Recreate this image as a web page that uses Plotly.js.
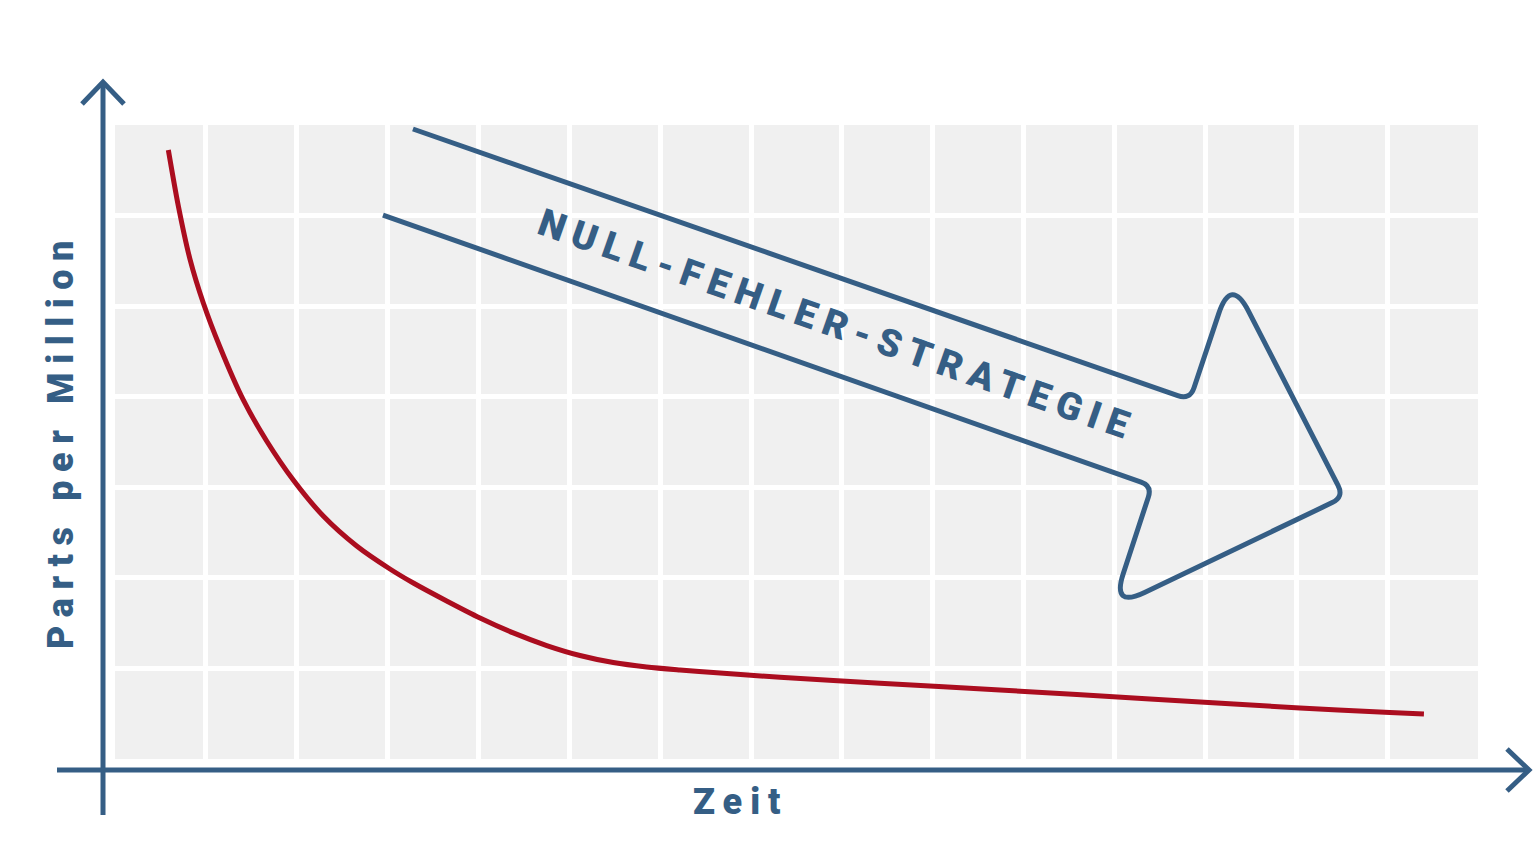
<!DOCTYPE html>
<html>
<head>
<meta charset="utf-8">
<script src="https://cdn.plot.ly/plotly-3.0.1.min.js"></script>
<style>
  html, body { margin: 0; padding: 0; background: #ffffff; }
  #chart { width: 1536px; height: 865px; }
  .annotation[data-index="0"] text { letter-spacing: 8px; }
  .annotation[data-index="1"] text { letter-spacing: 8px; }
  .annotation[data-index="2"] text { letter-spacing: 8.6px; }
</style>
</head>
<body>
<div id="chart"></div>
<script>
// ---- data (in grid units: 15 columns x 7 rows) ----
const gridCols = 15;
const gridRows = 7;

// Red curve: Parts per Million over time
const timeX = [0.587, 0.697, 0.825, 0.972, 1.155, 1.412, 1.669, 1.962, 2.292, 2.660, 3.026,
               3.283, 3.650, 4.017, 4.383, 4.751, 5.117, 5.484, 5.851, 6.218, 6.584, 7.318,
               8.419, 9.739, 11.390, 13.041, 14.031, 14.405];
const ppmY  = [6.724, 6.106, 5.520, 5.035, 4.549, 3.964, 3.511, 3.080, 2.683, 2.352, 2.098,
               1.943, 1.745, 1.557, 1.392, 1.253, 1.143, 1.065, 1.016, 0.983, 0.955, 0.902,
               0.836, 0.762, 0.662, 0.563, 0.513, 0.497];

// Outline arrow "Null-Fehler-Strategie" (sharp vertices, rounded on draw)
const arrowX = [3.279, 11.830, 12.281, 13.525, 10.972, 11.412, 2.949];
const arrowY = [6.956, 3.964, 5.322, 2.893, 1.667, 3.014, 6.006];
const arrowRadius = [0, 0.14, 0.18, 0.14, 0.17, 0.13, 0];

const arrowLabel = 'NULL-FEHLER-STRATEGIE';
const xTitle = 'Zeit';
const yTitle = 'Parts per Million';

// ---- styling ----
const BLUE = '#355e85';
const RED = '#ab0d1f';
const W = 1536, H = 865;
const M = { l: 115, r: 58, t: 125, b: 106 };
const plotW = W - M.l - M.r, plotH = H - M.t - M.b;
const px = x => (x - M.l) / plotW;          // page x -> paper
const py = y => (H - M.b - y) / plotH;      // page y -> paper

function roundedPath(xs, ys, rs) {
  let d = 'M ' + xs[0] + ',' + ys[0];
  for (let i = 1; i < xs.length - 1; i++) {
    const vx = xs[i], vy = ys[i];
    let ax = xs[i - 1] - vx, ay = ys[i - 1] - vy;
    let bx = xs[i + 1] - vx, by = ys[i + 1] - vy;
    const la = Math.hypot(ax, ay), lb = Math.hypot(bx, by);
    ax /= la; ay /= la; bx /= lb; by /= lb;
    const theta = Math.acos(Math.max(-1, Math.min(1, ax * bx + ay * by)));
    const t = rs[i] / Math.tan(theta / 2);
    const p1x = vx + ax * t, p1y = vy + ay * t;
    const p2x = vx + bx * t, p2y = vy + by * t;
    d += ' L ' + p1x.toFixed(4) + ',' + p1y.toFixed(4) +
         ' Q ' + vx + ',' + vy + ' ' + p2x.toFixed(4) + ',' + p2y.toFixed(4);
  }
  const n = xs.length - 1;
  d += ' L ' + xs[n] + ',' + ys[n];
  return d;
}

const traces = [{
  x: timeX, y: ppmY, type: 'scatter', mode: 'lines',
  line: { color: RED, width: 5, shape: 'spline', smoothing: 0.8 },
  hoverinfo: 'skip'
}];

const shapes = [
  { type: 'path', xref: 'x', yref: 'y', path: roundedPath(arrowX, arrowY, arrowRadius),
    line: { color: BLUE, width: 5 }, layer: 'above' },
  // y axis with arrow
  { type: 'line', xref: 'paper', yref: 'paper', x0: px(103), x1: px(103), y0: py(815), y1: py(83),
    line: { color: BLUE, width: 5 } },
  { type: 'path', xref: 'paper', yref: 'paper',
    path: 'M ' + px(82) + ',' + py(104) + ' L ' + px(103) + ',' + py(82) + ' L ' + px(124) + ',' + py(104),
    line: { color: BLUE, width: 5 } },
  // x axis with arrow
  { type: 'line', xref: 'paper', yref: 'paper', x0: px(57), x1: px(1529), y0: py(770), y1: py(770),
    line: { color: BLUE, width: 5 } },
  { type: 'path', xref: 'paper', yref: 'paper',
    path: 'M ' + px(1507) + ',' + py(749) + ' L ' + px(1529) + ',' + py(770) + ' L ' + px(1507) + ',' + py(791),
    line: { color: BLUE, width: 5 } }
];

const annotations = [
  { text: arrowLabel, xref: 'x', yref: 'y', x: 7.95, y: 4.79, showarrow: false,
    textangle: 19.3, font: { family: 'Roboto', size: 38, color: BLUE, weight: 900 } },
  { text: xTitle, xref: 'paper', yref: 'paper', x: px(741), y: py(802), showarrow: false,
    xanchor: 'center', yanchor: 'middle',
    font: { family: 'Roboto', size: 36, color: BLUE, weight: 900 } },
  { text: yTitle, xref: 'paper', yref: 'paper', x: px(61), y: py(441), showarrow: false,
    textangle: -90, xanchor: 'center', yanchor: 'middle',
    font: { family: 'Roboto', size: 36, color: BLUE, weight: 900 } }
];

const axisCommon = {
  showgrid: true, gridcolor: '#ffffff', gridwidth: 5, dtick: 1, tick0: 0,
  zeroline: false, showline: false, ticks: '', showticklabels: false, fixedrange: true
};

const layout = {
  width: W, height: H,
  margin: { l: M.l, r: M.r, t: M.t, b: M.b, pad: 0 },
  paper_bgcolor: '#ffffff', plot_bgcolor: '#f0f0f0',
  showlegend: false,
  xaxis: Object.assign({ range: [0, gridCols] }, axisCommon),
  yaxis: Object.assign({ range: [0, gridRows] }, axisCommon),
  shapes: shapes,
  annotations: annotations
};

Plotly.newPlot('chart', traces, layout, { displayModeBar: false, staticPlot: true });
</script>
</body>
</html>
